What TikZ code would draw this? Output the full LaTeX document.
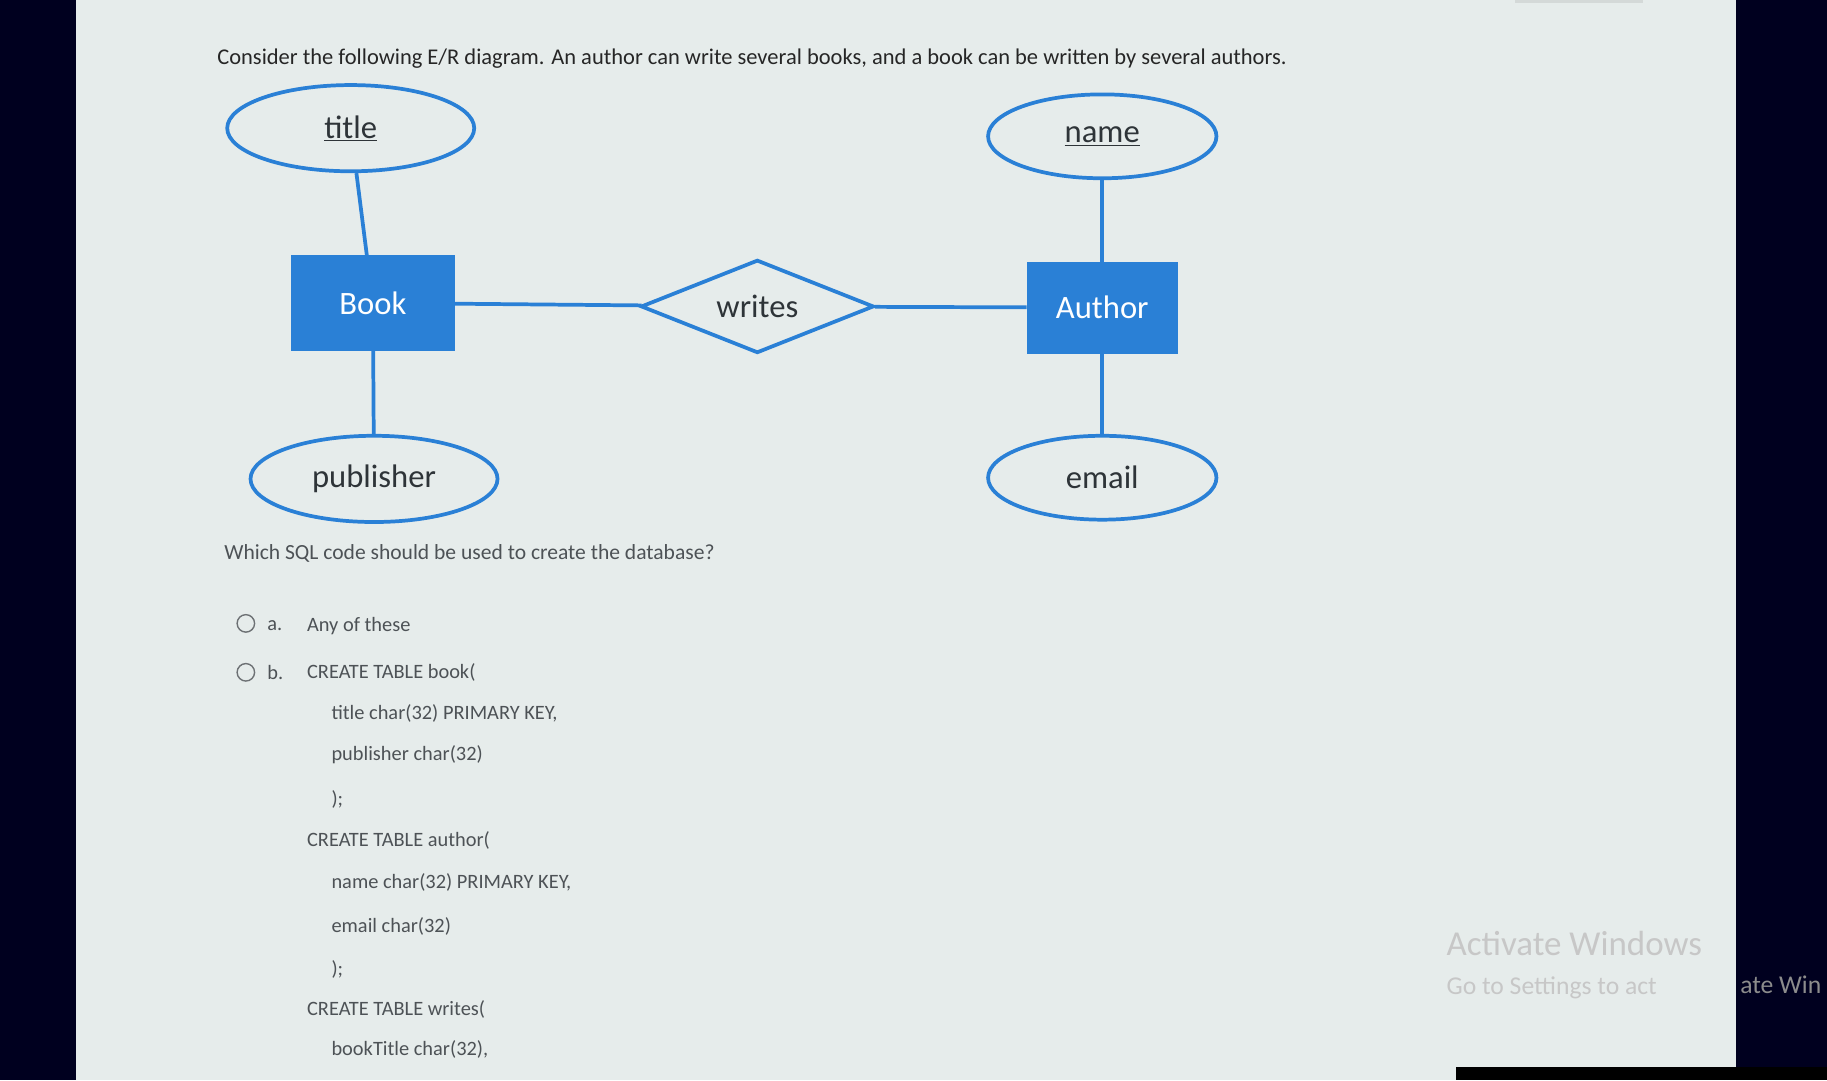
\documentclass[tikz,border=0pt]{standalone}
\usepackage{fontspec}
\setmainfont{Carlito}
\usetikzlibrary{shapes.geometric}
\definecolor{erblue}{HTML}{2A80D6}
\definecolor{bg}{HTML}{E6ECEB}
\definecolor{txt}{HTML}{2E3438}
\tikzset{
  attr/.style={draw=erblue,line width=3.2pt,ellipse,fill=bg,inner sep=0pt,font=\fontsize{28}{30}\selectfont,text=txt},
  ent/.style={draw=erblue,fill=erblue,line width=1pt,text=white,inner sep=0pt,font=\fontsize{28}{30}\selectfont},
  rel/.style={draw=erblue,line width=3.2pt,diamond,fill=bg,aspect=2.5,inner sep=0pt,font=\fontsize{28}{30}\selectfont,text=txt},
  conn/.style={draw=erblue,line width=3.2pt},
  qt/.style={anchor=west,font=\fontsize{17.5}{19}\selectfont,text=txt!85!white},
  radio/.style={draw=txt!70!white,line width=1.2pt,circle,minimum size=15pt,inner sep=0pt}
}
\begin{document}
\begin{tikzpicture}[x=1pt,y=-1pt]
\useasboundingbox (0,0) rectangle (1568,927);
\fill[black!88!blue] (0,0) rectangle (1568,927);
\fill[bg] (65,0) rectangle (1490,927);
\fill[bg!92!black] (1300,0) rectangle (1410,3);
\node[anchor=west,font=\fontsize{19.3}{21}\selectfont,text=black!85] (head) at (183,50) {Consider the following E/R diagram. An author can write several books, and a book can be written by several authors.};
\node[attr,minimum width=212pt,minimum height=74pt] (title) at (301,110) {\underline{title}};
\node[attr,minimum width=196pt,minimum height=72pt] (name) at (946,117) {\underline{name}};
\node[ent,minimum width=140pt,minimum height=81pt] (book) at (320,260) {Book};
\node[ent,minimum width=129pt,minimum height=78pt] (author) at (946,264) {Author};
\node[rel,minimum width=200pt,minimum height=80pt] (writes) at (650,263) {writes};
\node[attr,minimum width=212pt,minimum height=74pt] (pub) at (321,411) {publisher};
\node[attr,minimum width=196pt,minimum height=72pt] (email) at (946,410) {email};
\draw[conn] (title) -- (book);
\draw[conn] (book) -- (writes);
\draw[conn] (writes) -- (author);
\draw[conn] (author) -- (name);
\draw[conn] (author) -- (email);
\draw[conn] (book) -- (pub);
\node[qt,font=\fontsize{18.5}{20}\selectfont] (q) at (189,475) {Which SQL code should be used to create the database?};
\node[radio] (ra) at (211,535) {};
\node[radio] (rb) at (211,577) {};
\node[qt] (la) at (226,537) {a.};
\node[qt] (ta) at (260,537) {Any of these};
\node[qt] (lb) at (226,577) {b.};
\node[qt] (l1) at (260,577) {CREATE TABLE book(};
\node[qt] (l2) at (281,612) {title char(32) PRIMARY KEY,};
\node[qt] (l3) at (281,648) {publisher char(32)};
\node[qt] (l4) at (281,686) {);};
\node[qt] (l5) at (260,721) {CREATE TABLE author(};
\node[qt] (l6) at (281,757) {name char(32) PRIMARY KEY,};
\node[qt] (l7) at (281,795) {email char(32)};
\node[qt] (l8) at (281,832) {);};
\node[qt] (l9) at (260,866) {CREATE TABLE writes(};
\node[qt] (l10) at (281,901) {bookTitle char(32),};
\node[anchor=west,font=\fontsize{30}{32}\selectfont,text=black!22] (aw) at (1238,810) {Activate Windows};
\node[anchor=west,font=\fontsize{22}{24}\selectfont,text=black!22] (gs) at (1238,848) {Go to Settings to act};
\fill[black!88!blue] (1490,790) rectangle (1568,927);
\node[anchor=west,font=\fontsize{22}{24}\selectfont,text=black!45] (gs2) at (1490,845) {ate Win};
\fill[black] (1250,916) rectangle (1568,927);
\end{tikzpicture}
\end{document}
